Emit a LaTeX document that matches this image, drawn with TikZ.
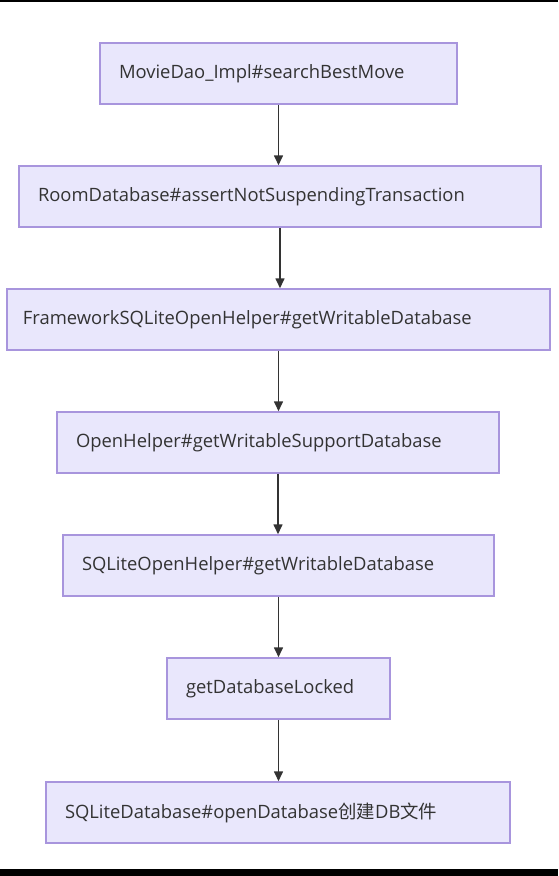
\documentclass[tikz,border=0pt]{standalone}
\usepackage{fontspec}
\setmainfont{Open Sans}
\newfontfamily\cjk{Noto Sans CJK SC}
\usetikzlibrary{arrows.meta}
\definecolor{boxfill}{HTML}{E9E7FC}
\definecolor{boxline}{HTML}{A895DD}
\definecolor{arrowc}{HTML}{333333}
\tikzset{
  x=1pt,y=-1pt,
  stepbox/.style={draw=boxline, fill=boxfill, line width=1.5pt, minimum height=61pt,
    inner xsep=19pt, inner ysep=0pt, align=left, font=\fontsize{18.4}{21}\selectfont, text=black!80},
  flow/.style={draw=arrowc, line width=1.6pt, -{Triangle[width=9pt,length=10pt]}}
}
\begin{document}
\begin{tikzpicture}
\useasboundingbox (0,0) rectangle (558,876);
\fill[white] (0,0) rectangle (558,876);
\fill[black] (0,0) rectangle (558,2);
\fill[black] (0,869) rectangle (558,876);
\node[stepbox, text width=319pt] (n1) at (278.5,73.5) {MovieDao\_Impl\#searchBestMove};
\node[stepbox, text width=484pt, inner xsep=19pt] (n2) at (280,196.5) {RoomDatabase\#assertNotSuspendingTransaction};
\node[stepbox, inner xsep=16pt, text width=511pt] (n3) at (278.5,319.5) {FrameworkSQLiteOpenHelper\#getWritableDatabase};
\node[stepbox, text width=404pt] (n4) at (278,442.5) {OpenHelper\#getWritableSupportDatabase};
\node[stepbox, text width=393pt] (n5) at (278.5,565.5) {SQLiteOpenHelper\#getWritableDatabase};
\node[stepbox, text width=185pt] (n6) at (278.5,688.5) {getDatabaseLocked};
\node[stepbox, text width=426pt] (n7) at (278,812.5) {SQLiteDatabase\#openDatabase{\cjk 创建}DB{\cjk 文件}};
\foreach \a/\b in {n1/n2,n2/n3,n3/n4,n4/n5,n5/n6,n6/n7}
  \draw[flow] (\a.south) -- (\a.south |- \b.north);
\end{tikzpicture}
\end{document}
